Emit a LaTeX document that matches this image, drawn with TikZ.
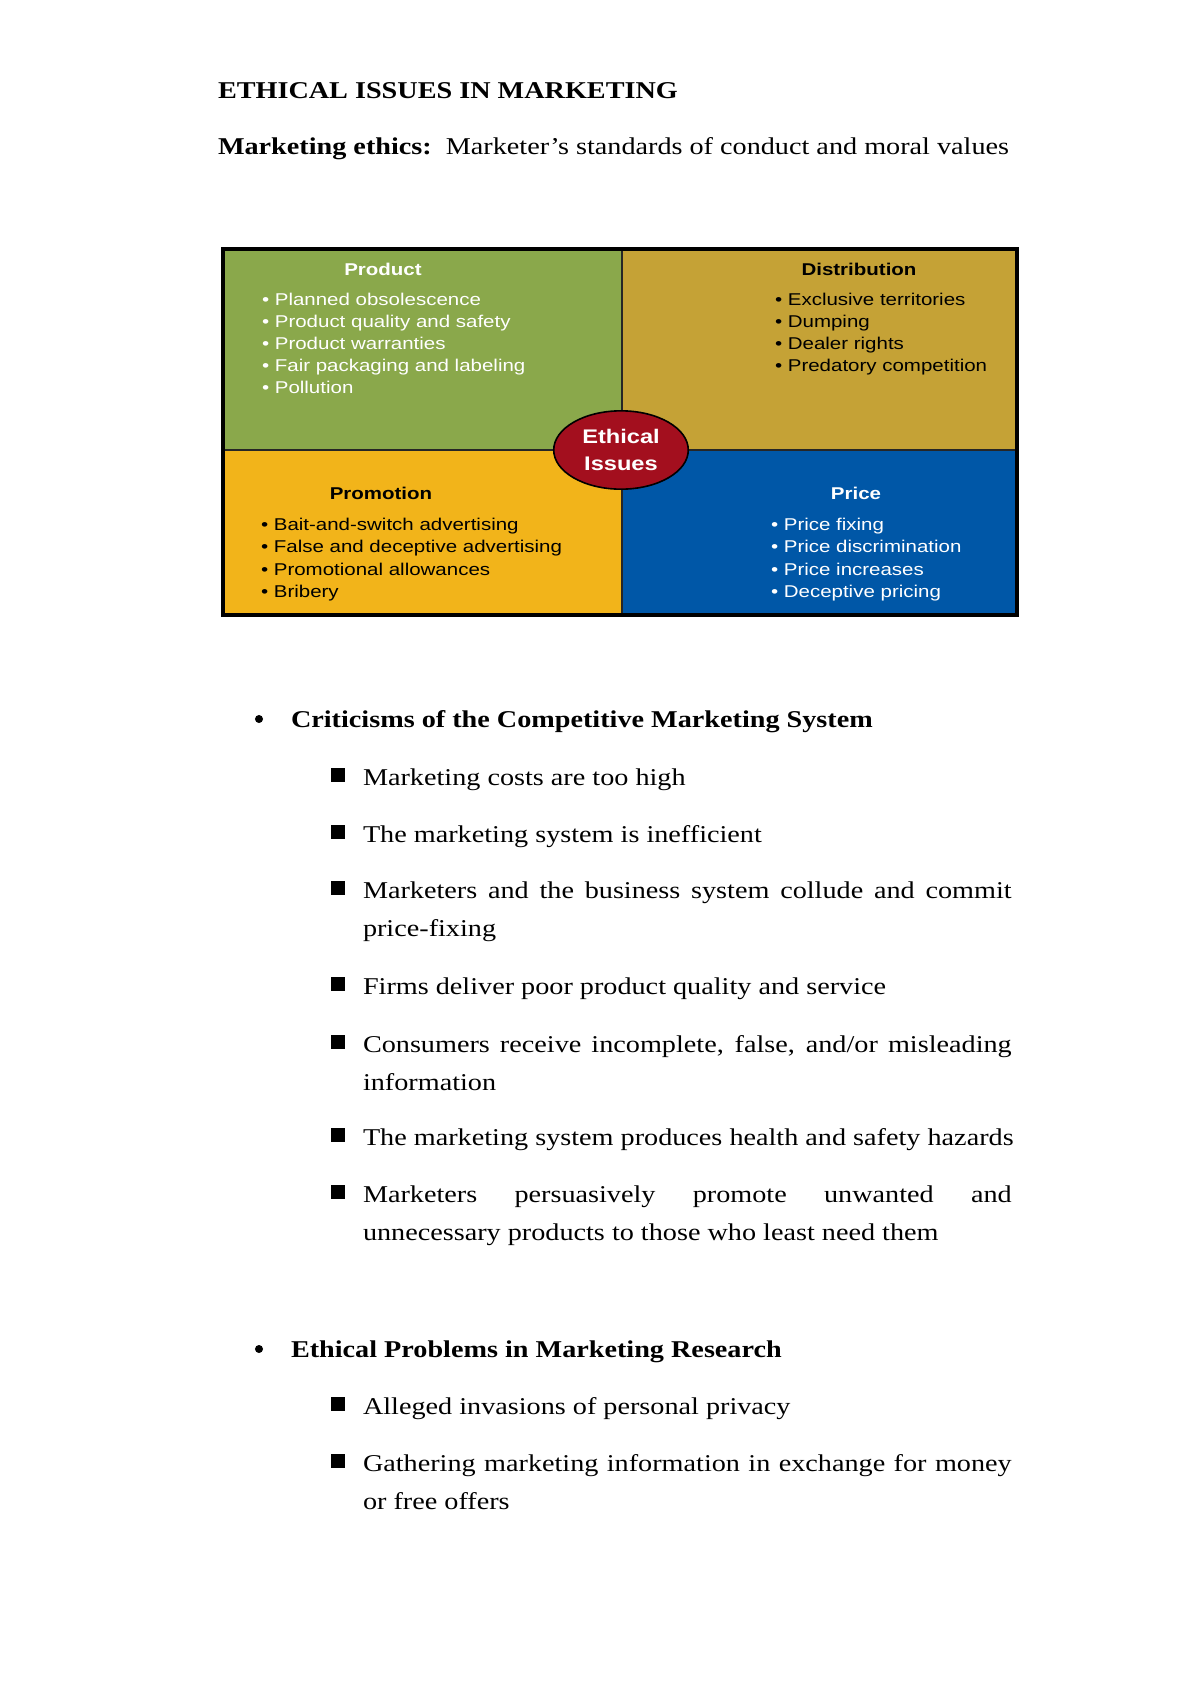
\documentclass[tikz,border=0pt]{standalone}
\usepackage{fontspec}
\setmainfont{Liberation Serif}[FakeStretch=1.17]
\newfontfamily\quadfont{Liberation Sans}[FakeStretch=1.2]
\usetikzlibrary{positioning, shapes.geometric}

\definecolor{prodgreen}{HTML}{8AA84B}
\definecolor{distgold}{HTML}{C5A236}
\definecolor{promoyellow}{HTML}{F2B41A}
\definecolor{priceblue}{HTML}{0057A7}
\definecolor{issuered}{HTML}{A30F1E}

\begin{document}
\begin{tikzpicture}[
    x=0.175mm,
    y=-0.175mm,
    every node/.style={inner sep=0pt, outer sep=0pt},
    body/.style={anchor=base west, font=\fontsize{12}{14}\selectfont},
    bodybold/.style={anchor=base west, font=\fontsize{12}{14}\selectfont\bfseries},
    qhead/.style={anchor=base, font=\quadfont\fontsize{8.5}{10}\selectfont\bfseries},
    qitem/.style={anchor=base west, font=\quadfont\fontsize{8.5}{10}\selectfont},
    sqbullet/.style={fill=black, minimum size=6.9pt, anchor=south west},
    dotbullet/.style={circle, fill=black, minimum size=4pt},
]
    \useasboundingbox (0,0) rectangle (1200,1698);

    \node[bodybold] (title)    at (218,98)  {ETHICAL ISSUES IN MARKETING};
    \node[body]     (subtitle) at (218,154) {\textbf{Marketing ethics:}\ \ Marketer’s standards of conduct and moral values};

    % the four quadrants
    \fill[prodgreen]   (223,249) rectangle (622,450);
    \fill[distgold]    (622,249) rectangle (1017,450);
    \fill[promoyellow] (223,450) rectangle (622,615);
    \fill[priceblue]   (622,450) rectangle (1017,615);
    \draw[line width=1pt, black!85] (622,249) -- (622,615) (223,450) -- (1017,450);
    \draw[line width=2pt] (223,249) rectangle (1017,615);

    \node[qhead, text=white] (prod)  at (383,275) {Product};
    \node[qitem, text=white] (prod1) at (262,305) {• Planned obsolescence};
    \node[qitem, text=white] (prod2) at (262,327) {• Product quality and safety};
    \node[qitem, text=white] (prod3) at (262,349) {• Product warranties};
    \node[qitem, text=white] (prod4) at (262,371) {• Fair packaging and labeling};
    \node[qitem, text=white] (prod5) at (262,393) {• Pollution};

    \node[qhead] (dist)  at (859,275) {Distribution};
    \node[qitem] (dist1) at (775,305) {• Exclusive territories};
    \node[qitem] (dist2) at (775,327) {• Dumping};
    \node[qitem] (dist3) at (775,349) {• Dealer rights};
    \node[qitem] (dist4) at (775,371) {• Predatory competition};

    \node[qhead] (promo)  at (381,499) {Promotion};
    \node[qitem] (promo1) at (261,530) {• Bait-and-switch advertising};
    \node[qitem] (promo2) at (261,552) {• False and deceptive advertising};
    \node[qitem] (promo3) at (261,575) {• Promotional allowances};
    \node[qitem] (promo4) at (261,597) {• Bribery};

    \node[qhead, text=white] (price)  at (856,499) {Price};
    \node[qitem, text=white] (price1) at (771,530) {• Price fixing};
    \node[qitem, text=white] (price2) at (771,552) {• Price discrimination};
    \node[qitem, text=white] (price3) at (771,575) {• Price increases};
    \node[qitem, text=white] (price4) at (771,597) {• Deceptive pricing};

    \node[ellipse, draw, line width=0.8pt, fill=issuered, text=white, align=center,
          minimum width=67pt, minimum height=39pt,
          font=\quadfont\fontsize{9.8}{13.4}\selectfont\bfseries] (issues) at (621,450) {Ethical\\Issues};

    % criticisms
    \node[dotbullet] (critdot) at (259,719) {};
    \node[bodybold]  (crit)    at (291,727) {Criticisms of the Competitive Marketing System};

    \node[sqbullet] (sq1) at (331,782)  {};
    \node[body]     (crit1) at (363,785) {Marketing costs are too high};
    \node[sqbullet] (sq2) at (331,839)  {};
    \node[body]     (crit2) at (363,842) {The marketing system is inefficient};
    \node[sqbullet] (sq3) at (331,895)  {};
    \node[body]     (crit3) at (363,898) {\makebox[323pt][s]{Marketers and the business system collude and commit}};
    \node[body]     (crit3b) at (363,936) {price-fixing};
    \node[sqbullet] (sq4) at (331,991)  {};
    \node[body]     (crit4) at (363,994) {Firms deliver poor product quality and service};
    \node[sqbullet] (sq5) at (331,1049) {};
    \node[body]     (crit5) at (363,1052) {\makebox[323pt][s]{Consumers receive incomplete, false, and/or misleading}};
    \node[body]     (crit5b) at (363,1090) {information};
    \node[sqbullet] (sq6) at (331,1142) {};
    \node[body]     (crit6) at (363,1145) {The marketing system produces health and safety hazards};
    \node[sqbullet] (sq7) at (331,1199) {};
    \node[body]     (crit7) at (363,1202) {\makebox[323pt][s]{Marketers persuasively promote unwanted and}};
    \node[body]     (crit7b) at (363,1240) {unnecessary products to those who least need them};

    % research
    \node[dotbullet] (resdot) at (259,1349) {};
    \node[bodybold]  (res)    at (291,1357) {Ethical Problems in Marketing Research};

    \node[sqbullet] (sq8) at (331,1411) {};
    \node[body]     (res1) at (363,1414) {Alleged invasions of personal privacy};
    \node[sqbullet] (sq9) at (331,1468) {};
    \node[body]     (res2) at (363,1471) {\makebox[323pt][s]{Gathering marketing information in exchange for money}};
    \node[body]     (res2b) at (363,1509) {or free offers};
\end{tikzpicture}
\end{document}
